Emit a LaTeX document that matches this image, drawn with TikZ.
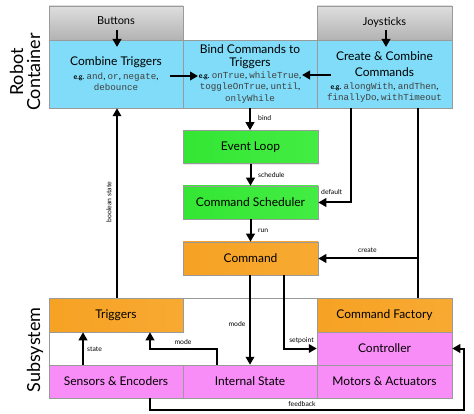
\documentclass[tikz,border=0pt]{standalone}
\usepackage{fontspec}
\setmainfont{Lato}
\newfontfamily\codefont{Liberation Mono}
\usetikzlibrary{arrows.meta,shadows}
\newcommand{\cd}[1]{{\codefont\color{black!75}#1}}
\newcommand{\eg}{{\fontsize{7}{8}\selectfont\bfseries e.g.}}
\definecolor{boxblue}{HTML}{80DCF8}
\definecolor{boxpink}{HTML}{F98DF7}
\definecolor{grnD}{HTML}{34E634}
\definecolor{grnL}{HTML}{66FC66}
\definecolor{orD}{HTML}{F6A224}
\definecolor{orL}{HTML}{FCC866}
\definecolor{edge}{HTML}{9A9A9A}
\tikzset{
  box/.style={draw=edge, line width=0.5pt, inner sep=0pt, align=center,
    drop shadow={opacity=0.18, shadow xshift=1pt, shadow yshift=-1.2pt}},
  wide/.style={minimum width=134pt},
  widr/.style={minimum width=135pt},
  titlefont/.style={font=\fontsize{12}{13}\selectfont},
  graybox/.style={box, top color=black!13, bottom color=black!30, minimum height=34pt,
    font=\fontsize{11}{12}\selectfont},
  bluebox/.style={box, fill=boxblue, minimum height=68pt, font=\fontsize{9.2}{11.5}\selectfont},
  bluetext/.style={inner sep=0pt, align=center, font=\fontsize{9.2}{11.5}\selectfont},
  greenbox/.style={box, left color=grnD, middle color=grnL, right color=grnD!70!grnL,
    widr, minimum height=33pt, titlefont},
  orangebox/.style={box, left color=orD, middle color=orL, right color=orD!80!orL,
    minimum height=34pt, titlefont},
  pinkbox/.style={box, fill=boxpink, minimum height=33pt, titlefont},
  arr/.style={line width=2pt, -{Triangle[length=8pt,width=8.5pt]}},
  plain/.style={line width=2pt},
  lbl/.style={font=\fontsize{6.8}{7}\selectfont, inner sep=1pt},
  side/.style={font=\fontsize{18}{19}\selectfont, rotate=90, align=center},
}
\newcommand{\ttl}[1]{{\fontsize{12}{13}\selectfont #1}}
\begin{document}
\begin{tikzpicture}[x=1pt,y=-1pt]
\useasboundingbox (0,0) rectangle (474,414);
% side labels
\node[side] (rc) at (25,72) {Robot\\[-2pt]Container};
\node[side] (ss) at (35,350) {Subsystem};
% subsystem area
\node[draw=edge, line width=0.5pt, fill=white, minimum width=403pt, minimum height=100pt,
  inner sep=0pt, drop shadow={opacity=0.18, shadow xshift=1pt, shadow yshift=-1.2pt}] (sub) at (250.5,348) {};
% top boxes
\node[graybox, wide] (buttons) at (116,23) {\raisebox{4pt}{Buttons}};
\node[graybox, widr] (joy) at (384.5,23) {\raisebox{4pt}{Joysticks}};
\node[bluebox, wide] (combine) at (116,74) {\ttl{Combine Triggers}\\[2.5pt]
  \eg\ \cd{and}, \cd{or}, \cd{negate},\\[-0.5pt] \cd{debounce}};
\node[bluebox, wide] (bindbox) at (250,74) {\ttl{Bind Commands to}\\[1.5pt]
  \ttl{Triggers}\\[0.5pt]
  \eg\ \cd{onTrue}, \cd{whileTrue},\\ \cd{toggleOnTrue}, \cd{until},\\ \cd{onlyWhile}};
\node[bluebox, widr] (create) at (384.5,74) {};
\node[bluetext] (createtxt) at (384.5,77.5) {\ttl{Create \& Combine}\\[4pt]
  \ttl{Commands}\\[1.5pt]
  \eg\ \cd{alongWith}, \cd{andThen},\\ \cd{finallyDo}, \cd{withTimeout}};
% middle boxes
\node[greenbox] (loop) at (250.5,147) {Event Loop};
\node[greenbox] (sched) at (250.5,202.5) {Command Scheduler};
\node[orangebox, widr, minimum height=33pt] (command) at (250.5,258.5) {Command};
% subsystem boxes
\node[orangebox, wide] (triggers) at (116,315) {Triggers};
\node[orangebox, widr] (factory) at (384.5,315) {Command Factory};
\node[pinkbox, widr] (controller) at (384.5,348.5) {Controller};
\node[pinkbox, wide] (sensors) at (116,381.5) {Sensors \& Encoders};
\node[pinkbox, wide] (internal) at (250,381.5) {Internal State};
\node[pinkbox, widr] (motors) at (384.5,381.5) {Motors \& Actuators};
% helper coordinates
\coordinate (b1) at (117,30);  \coordinate (b2) at (117,47);
\coordinate (j1) at (386,30);  \coordinate (j2) at (386,47);
\coordinate (c1) at (170,76);  \coordinate (c2) at (198,76);
\coordinate (k1) at (331,75);  \coordinate (k2) at (302,75);
\coordinate (dx) at (351,0);
\coordinate (cx) at (418,0);
\coordinate (bx) at (117,0);
\coordinate (mx) at (250,0);
\coordinate (sx) at (284,0);
\coordinate (tx) at (83,0);
\coordinate (mA) at (217,0);
\coordinate (mB) at (150,349);
\coordinate (fx) at (150,0);
\coordinate (fR) at (464,410);
% arrows in top
\draw[arr] (b1) -- (b2);
\draw[arr] (j1) -- (j2);
\draw[arr] (c1) -- (c2);
\draw[arr] (k1) -- (k2);
% flow
\draw[arr] (bindbox.south) -- (bindbox.south |- loop.north);
\draw[arr] (loop.south) -- (sched.north);
\draw[arr] (sched.south) -- (command.north);
\draw[arr] (dx |- create.south) |- (sched.east);
\draw[plain] (cx |- create.south) -- (cx |- factory.north);
\draw[arr] (cx |- command.east) -- (command.east);
\draw[arr] (bx |- triggers.north) -- (bx |- combine.south);
\draw[arr] (mx |- command.south) -- (mx |- internal.north);
\draw[arr] (sx |- command.south) |- (controller.west);
\draw[arr] (tx |- sensors.north) -- (tx |- triggers.south);
\draw[arr] (mA |- internal.north) |- (mB) -- (mB |- triggers.south);
\draw[arr] (fx |- sensors.south) |- (fR) |- (controller.east);
% labels
\node[lbl, anchor=west] (lbind) at (257,118.5) {bind};
\node[lbl, anchor=west] (lsched) at (257,175) {schedule};
\node[lbl, anchor=west] (lrun) at (257,231) {run};
\node[lbl, anchor=west] (ldef) at (320,192) {default};
\node[lbl, anchor=west] (lcre) at (357,250) {create};
\node[lbl, rotate=90] (lbool) at (109,202) {boolean state};
\node[lbl, anchor=west] (lstate) at (86,349) {state};
\node[lbl] (lmode1) at (183,342.5) {mode};
\node[lbl] (lmode2) at (237,324.5) {mode};
\node[lbl] (lset) at (301.5,341) {setpoint};
\node[lbl] (lfb) at (302,404.5) {feedback};
\end{tikzpicture}
\end{document}
